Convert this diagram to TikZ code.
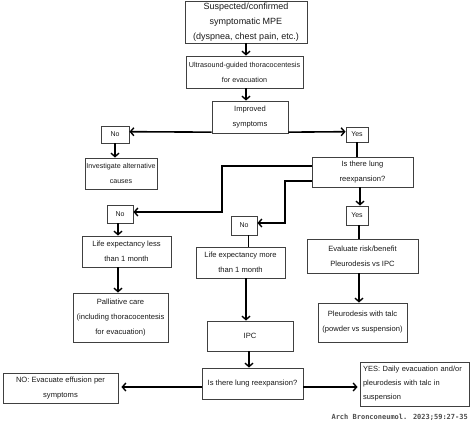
\documentclass[tikz,border=0pt]{standalone}
\usepackage{fontspec}
\setmainfont{Liberation Sans}
\newfontfamily\capfont{DejaVu Sans Mono}
\usetikzlibrary{arrows.meta}
\begin{document}
\begin{tikzpicture}[x=1pt,y=-1pt,
 box/.style={draw=black!75, line width=0.9pt, inner sep=0pt, align=center, text=black!90,
   font=\fontsize{7.6}{15}\selectfont},
 small/.style={box, font=\fontsize{7}{8}\selectfont},
 conn/.style={line width=1.6pt, black},
 arr/.style={conn, -{Straight Barb[length=3.5pt,width=8pt,line width=1.4pt]}},
]
\useasboundingbox (0,0) rectangle (474,426);
% nodes
\node[box, minimum width=122pt, minimum height=42pt, font=\fontsize{9}{15}\selectfont] (top) at (246,22) {Suspected/confirmed\\symptomatic MPE\\(dyspnea, chest pain, etc.)};
\node[box, minimum width=117pt, minimum height=32pt, font=\fontsize{7.2}{15}\selectfont] (us) at (244.5,72) {Ultrasound-guided thoracocentesis\\for evacuation};
\node[box, minimum width=76pt, minimum height=32pt] (imp) at (250,117) {Improved\\symptoms};
\node[small, minimum width=28pt, minimum height=17pt] (no1) at (115,134.5) {No};
\node[small, minimum width=22pt, minimum height=15pt] (yes1) at (357,134.5) {Yes};
\node[box, minimum width=72pt, minimum height=31pt, font=\fontsize{7.1}{15}\selectfont] (inv) at (121,173.5) {Investigate alternative\\causes};
\node[box, minimum width=101pt, minimum height=30pt] (reexp) at (362.5,172) {Is there lung\\reexpansion?};
\node[small, minimum width=26pt, minimum height=18pt] (noA) at (120,214) {No};
\node[small, minimum width=26pt, minimum height=19pt] (noB) at (244,225.5) {No};
\node[small, minimum width=22pt, minimum height=19pt] (yes2) at (357,215.5) {Yes};
\node[box, minimum width=89pt, minimum height=31pt] (less) at (126.5,251.5) {Life expectancy less\\than 1 month};
\node[box, minimum width=89pt, minimum height=31pt] (more) at (240.5,262.5) {Life expectancy more\\than 1 month};
\node[box, minimum width=111pt, minimum height=34pt] (eval) at (362.5,256) {Evaluate risk/benefit\\Pleurodesis vs IPC};
\node[box, minimum width=95pt, minimum height=49pt] (pall) at (120.5,317.5) {Palliative care\\(including thoracocentesis\\for evacuation)};
\node[box, minimum width=86pt, minimum height=30pt] (ipc) at (250,336) {IPC};
\node[box, minimum width=89pt, minimum height=39pt] (pleu) at (362.5,322.5) {Pleurodesis with talc\\(powder vs suspension)};
\node[box, minimum width=101pt, minimum height=31pt] (botq) at (252.5,383.5) {Is there lung reexpansion?};
\node[box, minimum width=115pt, minimum height=30pt] (noev) at (60.5,388) {NO: Evacuate effusion per\\symptoms};
\node[box, minimum height=44pt, text width=103pt, inner xsep=3pt, align=left, font=\fontsize{7.5}{14}\selectfont] (yesd) at (414.5,384) {YES: Daily evacuation and/or\\pleurodesis with talc in\\suspension};
\node[font=\capfont\bfseries\fontsize{7}{8}\selectfont, text=black!70, anchor=base east, inner sep=0pt] (cap) at (468,419) {Arch Bronconeumol. 2023;59:27-35};
% bends
\coordinate (kA) at (222,212);
\coordinate (kB) at (285,223);
% connectors
\draw[arr] (top.south) -- (top.south |- us.north);
\draw[arr] ([xshift=1.5pt]us.south) -- ([xshift=-4pt]imp.north);
\draw[arr] ([yshift=1.3pt]imp.south west) -- ([yshift=2.8pt]no1.east);
\draw[arr] ([yshift=1.3pt]imp.south east) -- ([yshift=2.8pt]yes1.west);
\draw[arr] (no1.south) -- ([xshift=-6pt]inv.north);
\draw[conn] (yes1.south) -- ([xshift=-5.5pt]reexp.north);
\draw[arr] ([yshift=6pt]reexp.west) -| (kA) -- ([yshift=2pt]noA.east);
\draw[arr] ([yshift=-9pt]reexp.west) -| (kB) -- ([yshift=2.5pt]noB.east);
\draw[arr] ([xshift=-2.5pt]reexp.south) -- ([xshift=3pt]yes2.north);
\draw[arr] ([xshift=-2pt]noA.south) -- ([xshift=-8.5pt]less.north);
\draw[conn] ([xshift=4.5pt]noB.south) -- ([xshift=8pt]more.north);
\draw[conn] ([xshift=2pt]yes2.south) -- ([xshift=-3.5pt]eval.north);
\draw[arr] ([xshift=-8.5pt]less.south) -- ([xshift=-2.5pt]pall.north);
\draw[arr] ([xshift=5.5pt]more.south) -- ([xshift=-4pt]ipc.north);
\draw[arr] ([xshift=-3.5pt]eval.south) -- ([xshift=-3.5pt]pleu.north);
\draw[arr] ([xshift=-1pt]ipc.south) -- ([xshift=-3.5pt]botq.north);
\draw[arr, shorten >=3pt] ([yshift=-3.5pt]botq.west) -- ([yshift=1pt]noev.east);
\draw[arr, shorten >=2pt] ([yshift=-3.5pt]botq.east) -- ([yshift=-3pt]yesd.west);
\end{tikzpicture}
\end{document}
